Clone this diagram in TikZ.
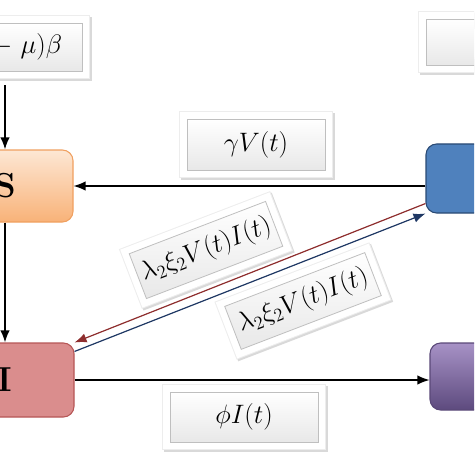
\documentclass[tikz,border=0pt]{standalone}
\usepackage{fix-cm}
\usepackage{tikz}
\usetikzlibrary{arrows.meta,calc}

\definecolor{sTop}{HTML}{FDE7D4}
\definecolor{sBot}{HTML}{F8B278}
\definecolor{sEdge}{HTML}{F0A060}
\definecolor{iFill}{HTML}{DA8D8D}
\definecolor{iEdge}{HTML}{B65656}
\definecolor{vFill}{HTML}{4F81BD}
\definecolor{vEdge}{HTML}{2A4A74}
\definecolor{rTop}{HTML}{A792C6}
\definecolor{rBot}{HTML}{5D4A7E}
\definecolor{rEdge}{HTML}{5A4878}
\definecolor{redLine}{HTML}{8E2E2E}
\definecolor{blueLine}{HTML}{1F3864}

\tikzset{
  comp/.style={rounded corners=8pt, line width=0.8pt, inner sep=0pt,
    font=\fontsize{26}{30}\selectfont\bfseries},
  rate/.style={shade, top color=white, bottom color=gray!18, draw=gray!50, line width=0.6pt,
    preaction={draw=gray!30, line width=12pt, transform canvas={xshift=1.2pt, yshift=-1.2pt}},
    preaction={draw=gray!14, line width=12pt},
    preaction={draw=white, line width=10.5pt},
    inner sep=2pt, font=\fontsize{20}{24}\selectfont},
  flow/.style={line width=0.9pt, -{Latex[length=9pt,width=7pt]}},
}

\begin{document}
\begin{tikzpicture}[x=0.75pt,y=0.75pt,yscale=-1,xscale=1]
\useasboundingbox (0,0) rectangle (474,474);
\clip (0,0) rectangle (474,474);

%Shape: Rounded Rectangle [S]
\node[comp, shade, top color=sTop, bottom color=sBot, draw=sEdge, minimum width=102pt, minimum height=54pt] (S) at (5,186) {S};
%Shape: Rounded Rectangle [I]
\node[comp, fill=iFill, draw=iEdge, minimum width=103.5pt, minimum height=55.5pt] (I) at (5,380) {I};
%Shape: Rounded Rectangle [V]
\node[comp, fill=vFill, draw=vEdge, minimum width=100.5pt, minimum height=51.75pt] (V) at (493,178.5) {};
%Shape: Rounded Rectangle [R]
\node[comp, shade, top color=rTop, bottom color=rBot, draw=rEdge, minimum width=100.5pt, minimum height=50.25pt] (R) at (497,376.5) {};

% Text Node
\node[rate, text width=91.5pt, inner xsep=15pt, align=right, minimum height=36pt] (birth) at (1,47) {${}-\mu)\beta$};
% Text Node
\node[rate, minimum width=130pt, minimum height=34.5pt] (outflow) at (513,42) {};
% Text Node
\node[rate, minimum width=103.5pt, minimum height=38.25pt] (relapse) at (256,144.5) {$\gamma V(t)$};
% Text Node
\node[rate, minimum width=111pt, minimum height=37.5pt] (recover) at (244,417) {$\phi I(t)$};
% Text Node
\node[rate, rotate=21, minimum width=109.5pt, minimum height=36pt] (backflow) at (206,250) {$\lambda_2\xi_2V(t)I(t)$};
% Text Node
\node[rate, rotate=21, minimum width=112.5pt, minimum height=34.5pt] (vacflow) at (303,301) {$\lambda_2\xi_2V(t)I(t)$};

%Straight Lines
\draw[flow, line width=1.2pt] ($(S.north |- birth.south)+(0,14)$) -- (S.north);
\draw[flow, line width=1.2pt] (S.south) -- (I.north);
\draw[flow] (S.east -| V.west) -- (S.east);
\draw[flow] (I.east) -- (I.east -| R.west);
\draw[flow, draw=redLine, fill=redLine] ($(V.south west)+(0,-10)$) -- (I.north east);
\draw[flow, draw=blueLine, fill=blueLine] ($(I.north east)+(0,9)$) -- (V.south west);

\end{tikzpicture}
\end{document}
